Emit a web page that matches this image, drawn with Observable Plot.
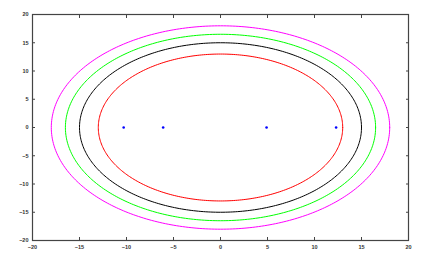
<!DOCTYPE html>
<html><head><meta charset="utf-8">
<script src="https://cdn.jsdelivr.net/npm/d3@7"></script>
<script src="https://cdn.jsdelivr.net/npm/@observablehq/plot@0.6"></script>
<style>body{margin:0;background:#fff}</style>
</head><body><div id="chart"></div>
<script>
const curveNames = ["outer", "second", "third", "inner"];
const curveRadii = [18, 16.5, 15, 13];
const curveColors = ["#ff00ff", "#00ff00", "#000000", "#ff0000"];
const pointX = [-10.3, -6.1, 4.9, 12.3];
const pointY = [0, 0, 0, 0];
const tickValues = [-20, -15, -10, -5, 0, 5, 10, 15, 20];

const curves = [];
curveNames.forEach((name, i) => {
  const r = curveRadii[i];
  for (let k = 0; k <= 360; k++) {
    const t = k * Math.PI / 180;
    curves.push({name, x: r * Math.cos(t), y: r * Math.sin(t)});
  }
});
const points = pointX.map((x, i) => ({x, y: pointY[i]}));

const textStyle = {fill: "#333", stroke: null, fontSize: 5.5, fontWeight: "bold", tickSize: 0, label: null};
const tickStyle = {stroke: "#444", tickSize: -3, text: null, label: null};
const chart = Plot.plot({
  width: 431, height: 263,
  marginLeft: 32, marginRight: 23, marginTop: 14, marginBottom: 23,
  style: {fontFamily: "Liberation Sans, Arial, sans-serif", background: "#fff"},
  x: {domain: [-20, 20]},
  y: {domain: [-20, 20]},
  color: {domain: curveNames, range: curveColors},
  marks: [
    Plot.frame({stroke: "#444", strokeWidth: 1.2}),
    Plot.axisX(tickValues, {anchor: "bottom", tickPadding: 5, ...textStyle}),
    Plot.axisX(tickValues, {anchor: "bottom", ...tickStyle}),
    Plot.axisX(tickValues, {anchor: "top", ...tickStyle}),
    Plot.axisY(tickValues, {anchor: "left", tickPadding: 4, ...textStyle}),
    Plot.axisY(tickValues, {anchor: "left", ...tickStyle}),
    Plot.axisY(tickValues, {anchor: "right", ...tickStyle}),
    Plot.line(curves, {x: "x", y: "y", z: "name", stroke: "name", strokeWidth: 1}),
    Plot.dot(points, {x: "x", y: "y", r: 1.3, fill: "#0000ff", stroke: null})
  ]
});
document.getElementById("chart").append(chart);
</script>
</body></html>
